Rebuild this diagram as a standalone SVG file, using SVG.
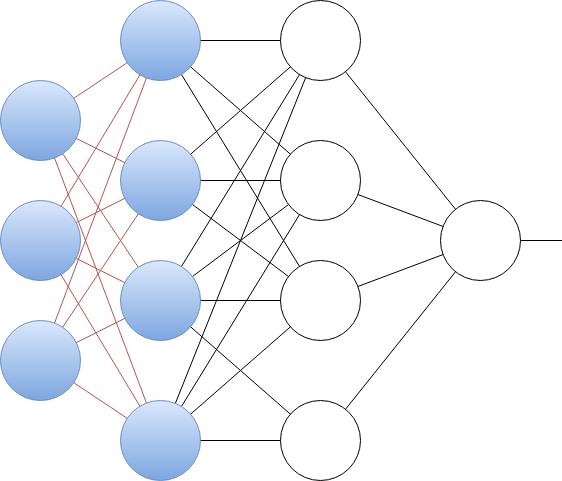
<svg xmlns="http://www.w3.org/2000/svg" width="562" height="481" viewBox="0 0 562 481">
<style>
.r{stroke:#b85450;stroke-width:1;fill:none}
.k{stroke:#000;stroke-width:1;fill:none}
.b{fill:url(#g);stroke:#6c8ebf;stroke-width:1}
.w{fill:#fff;stroke:#000;stroke-width:1}
</style>
<defs>
<linearGradient id="g" x1="0" y1="0" x2="0" y2="1">
<stop offset="0" stop-color="#dae8fc"/>
<stop offset="1" stop-color="#7ea6e0"/>
</linearGradient>
</defs>
<rect width="562" height="481" fill="#fff"/>
<g id="connectors">
<line class="r" x1="40.5" y1="120.5" x2="160.5" y2="40.5"/>
<line class="r" x1="40.5" y1="120.5" x2="160.5" y2="180.5"/>
<line class="r" x1="40.5" y1="120.5" x2="160.5" y2="300.5"/>
<line class="r" x1="40.5" y1="120.5" x2="160.5" y2="440.5"/>
<line class="r" x1="40.5" y1="240.5" x2="160.5" y2="40.5"/>
<line class="r" x1="40.5" y1="240.5" x2="160.5" y2="180.5"/>
<line class="r" x1="40.5" y1="240.5" x2="160.5" y2="300.5"/>
<line class="r" x1="40.5" y1="240.5" x2="160.5" y2="440.5"/>
<line class="r" x1="40.5" y1="360.5" x2="160.5" y2="40.5"/>
<line class="r" x1="40.5" y1="360.5" x2="160.5" y2="180.5"/>
<line class="r" x1="40.5" y1="360.5" x2="160.5" y2="300.5"/>
<line class="r" x1="40.5" y1="360.5" x2="160.5" y2="440.5"/>
<line class="k" x1="160.5" y1="40.5" x2="320.5" y2="40.5"/>
<line class="k" x1="160.5" y1="40.5" x2="320.5" y2="180.5"/>
<line class="k" x1="160.5" y1="40.5" x2="320.5" y2="300.5"/>
<line class="k" x1="160.5" y1="180.5" x2="320.5" y2="40.5"/>
<line class="k" x1="160.5" y1="180.5" x2="320.5" y2="180.5"/>
<line class="k" x1="160.5" y1="180.5" x2="320.5" y2="300.5"/>
<line class="k" x1="160.5" y1="300.5" x2="320.5" y2="40.5"/>
<line class="k" x1="160.5" y1="300.5" x2="320.5" y2="180.5"/>
<line class="k" x1="160.5" y1="300.5" x2="320.5" y2="300.5"/>
<line class="k" x1="160.5" y1="300.5" x2="320.5" y2="440.5"/>
<line class="k" x1="160.5" y1="440.5" x2="320.5" y2="40.5"/>
<line class="k" x1="160.5" y1="440.5" x2="320.5" y2="180.5"/>
<line class="k" x1="160.5" y1="440.5" x2="320.5" y2="300.5"/>
<line class="k" x1="160.5" y1="440.5" x2="320.5" y2="440.5"/>
<line class="k" x1="320.5" y1="40.5" x2="480.5" y2="240.5"/>
<line class="k" x1="320.5" y1="180.5" x2="480.5" y2="240.5"/>
<line class="k" x1="320.5" y1="300.5" x2="480.5" y2="240.5"/>
<line class="k" x1="320.5" y1="440.5" x2="480.5" y2="240.5"/>
<line class="k" x1="520.5" y1="240.5" x2="562" y2="240.5"/>
</g>
<g id="in1"><circle class="b" cx="40.5" cy="120.5" r="40"/></g>
<g id="in2"><circle class="b" cx="40.5" cy="240.5" r="40"/></g>
<g id="in3"><circle class="b" cx="40.5" cy="360.5" r="40"/></g>
<g id="h1"><circle class="b" cx="160.5" cy="40.5" r="40"/></g>
<g id="h2"><circle class="b" cx="160.5" cy="180.5" r="40"/></g>
<g id="h3"><circle class="b" cx="160.5" cy="300.5" r="40"/></g>
<g id="h4"><circle class="b" cx="160.5" cy="440.5" r="40"/></g>
<g id="k1"><circle class="w" cx="320.5" cy="40.5" r="40"/></g>
<g id="k2"><circle class="w" cx="320.5" cy="180.5" r="40"/></g>
<g id="k3"><circle class="w" cx="320.5" cy="300.5" r="40"/></g>
<g id="k4"><circle class="w" cx="320.5" cy="440.5" r="40"/></g>
<g id="out"><circle class="w" cx="480.5" cy="240.5" r="40"/></g>
</svg>
